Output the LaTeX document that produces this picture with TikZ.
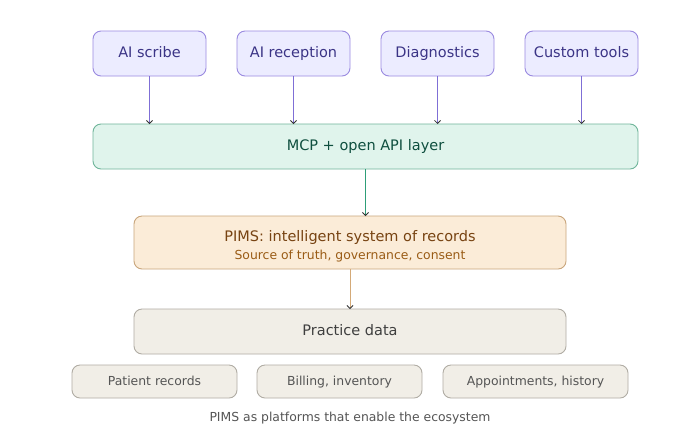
\documentclass[tikz,border=0pt]{standalone}
\usepackage{fontspec}
\setmainfont{DejaVu Sans}
\usetikzlibrary{arrows.meta}
\definecolor{topfill}{HTML}{ECECFF}
\definecolor{topdraw}{HTML}{9A8AE0}
\definecolor{toptext}{HTML}{3B3486}
\definecolor{toparrow}{HTML}{7F6FD6}
\definecolor{mcpfill}{HTML}{E0F4EC}
\definecolor{mcpdraw}{HTML}{6FB59A}
\definecolor{mcptext}{HTML}{0F4F3F}
\definecolor{mcparrow}{HTML}{2E9E78}
\definecolor{pimsfill}{HTML}{FBECD8}
\definecolor{pimsdraw}{HTML}{C9A67C}
\definecolor{pimstext}{HTML}{774312}
\definecolor{pimssub}{HTML}{9A5C16}
\definecolor{pimsarrow}{HTML}{D4AA78}
\definecolor{datafill}{HTML}{F1EEE7}
\definecolor{datadraw}{HTML}{B0ACA4}
\definecolor{datatext}{HTML}{3F3F3F}
\definecolor{subtext}{HTML}{555555}
\tikzset{
  box/.style={rounded corners=8pt, line width=0.9pt, inner sep=0pt, outer sep=0pt, align=center},
  oneline/.style={text height=0.9em, text depth=0.1em},
  topbox/.style={box, oneline, fill=topfill, draw=topdraw, text=toptext, minimum width=113pt, minimum height=45pt, font=\fontsize{14.5}{17}\selectfont},
  mcpbox/.style={box, oneline, fill=mcpfill, draw=mcpdraw, text=mcptext, minimum width=545pt, minimum height=45pt, font=\fontsize{14.5}{17}\selectfont},
  pimsbox/.style={box, fill=pimsfill, draw=pimsdraw, text=pimstext, minimum width=432pt, minimum height=53pt},
  databox/.style={box, oneline, fill=datafill, draw=datadraw, text=datatext, minimum width=432pt, minimum height=45pt, font=\fontsize{14.5}{17}\selectfont},
  smallbox/.style={box, oneline, fill=datafill, draw=datadraw, text=subtext, minimum height=33pt, font=\fontsize{12.4}{15}\selectfont},
  conn/.style={line width=0.9pt, -{Straight Barb[length=3pt,width=6pt,line width=0.8pt,color=black!80]}},
}
\begin{document}
\begin{tikzpicture}[x=1pt,y=-1pt]
\useasboundingbox[fill=white] (0,0) rectangle (700,432);
\node[topbox] (scribe) at (149.5,53.5) {AI scribe};
\node[topbox] (reception) at (293.5,53.5) {AI reception};
\node[topbox] (diag) at (437.5,53.5) {Diagnostics};
\node[topbox] (custom) at (581.5,53.5) {Custom tools};
\node[mcpbox] (mcp) at (365.5,146.5) {MCP + open API layer};
\node[pimsbox] (pims) at (350,242.5) {};
\node[text=pimstext, font=\fontsize{14.5}{17}\selectfont, oneline, inner sep=0pt] (pimstitle) at (350,237) {PIMS: intelligent system of records};
\node[text=pimssub, font=\fontsize{12.4}{15}\selectfont, oneline, inner sep=0pt] (pimssubt) at (350,255) {Source of truth, governance, consent};
\node[databox] (data) at (350,331.5) {Practice data};
\node[smallbox, minimum width=165pt] (patient) at (154.5,381.5) {Patient records};
\node[smallbox, minimum width=165pt] (billing) at (339.5,381.5) {Billing, inventory};
\node[smallbox, minimum width=185pt] (appt) at (535.5,381.5) {Appointments, history};
\node[text=subtext, font=\fontsize{12.4}{15}\selectfont, oneline] (caption) at (350,417) {PIMS as platforms that enable the ecosystem};
\foreach \n in {scribe,reception,diag,custom}{
  \draw[conn, toparrow] (\n.south) -- (\n.south |- mcp.north);
}
\draw[conn, mcparrow] (mcp.south) -- (mcp.south |- pims.north);
\draw[conn, pimsarrow] (pims.south) -- (data.north);
\end{tikzpicture}
\end{document}
